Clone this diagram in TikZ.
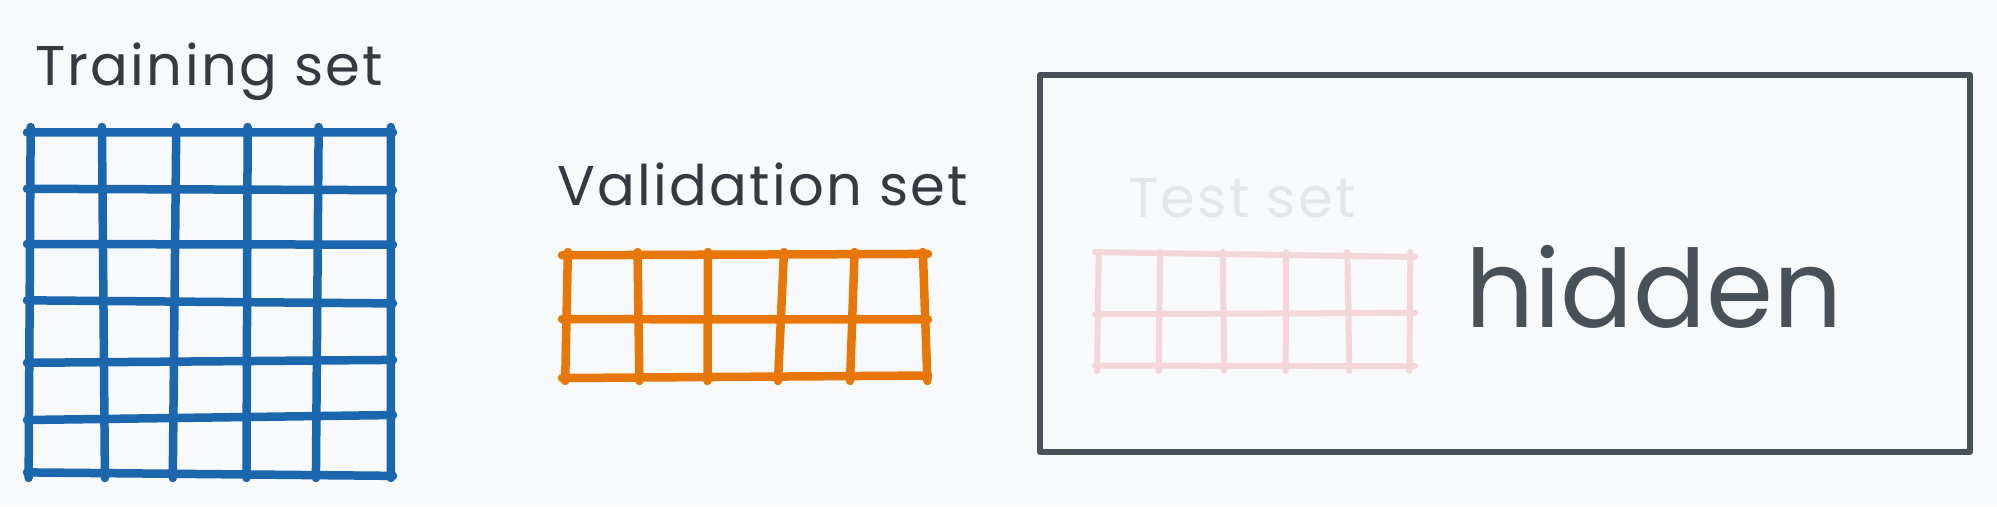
\documentclass[tikz,border=0pt]{standalone}
\usepackage{fontspec}
\setmainfont{Poppins}
\usetikzlibrary{positioning}

\definecolor{paper}{HTML}{F8F9FB}
\definecolor{ink}{HTML}{343A40}
\definecolor{boxgray}{HTML}{495057}
\definecolor{trainblue}{HTML}{1A67AD}
\definecolor{valorange}{HTML}{E8770A}
\definecolor{testpink}{HTML}{F2D6D9}
\definecolor{ghost}{HTML}{E4E7EA}

\tikzset{
  setlabel/.style={font=\fontsize{56}{56}\selectfont\addfontfeature{LetterSpace=4},
    text=ink, inner sep=0pt, anchor=base west},
  gridline/.style={line width=8.5pt, line cap=round},
}

% sketchy grid: x0, y0, cols, rows, cell width, cell height, style
\newcommand{\sketchgrid}[7]{%
  \foreach \c in {0,...,#3} {
    \draw[gridline, #7] ({#1+\c*#5+rand*3}, {#2-3}) -- ({#1+\c*#5+rand*3}, {#2+#4*#6+3});
  }
  \foreach \r in {0,...,#4} {
    \draw[gridline, #7] ({#1-3}, {#2+\r*#6+rand*3}) -- ({#1+#3*#5+3}, {#2+\r*#6+rand*3});
  }
}

\begin{document}
\begin{tikzpicture}[x=1pt, y=-1pt]
\pgfmathsetseed{7}
\fill[paper] (0,0) rectangle (1997,506);
\useasboundingbox (0,0) rectangle (1997,506);

% labels
\node[setlabel] (trainlabel) at (35,85) {Training set};
\node[setlabel] (vallabel) at (557,205) {Validation set};
\node[setlabel, text=ghost] (testlabel) at (1128,217) {Test set};
\node[setlabel, font=\fontsize{108}{108}\selectfont, text=boxgray] (hiddenlabel) at (1465,327) {hidden};

% the hidden box
\draw[line width=6pt, boxgray, line join=round] (1040,75) rectangle (1970,452);

% grids
\sketchgrid{30}{130}{5}{6}{72}{57.5}{trainblue}
\sketchgrid{565}{255}{5}{2}{72}{61.5}{valorange}
\sketchgrid{1098}{255}{5}{2}{62.8}{56.5}{testpink, line width=6pt}
\end{tikzpicture}
\end{document}
